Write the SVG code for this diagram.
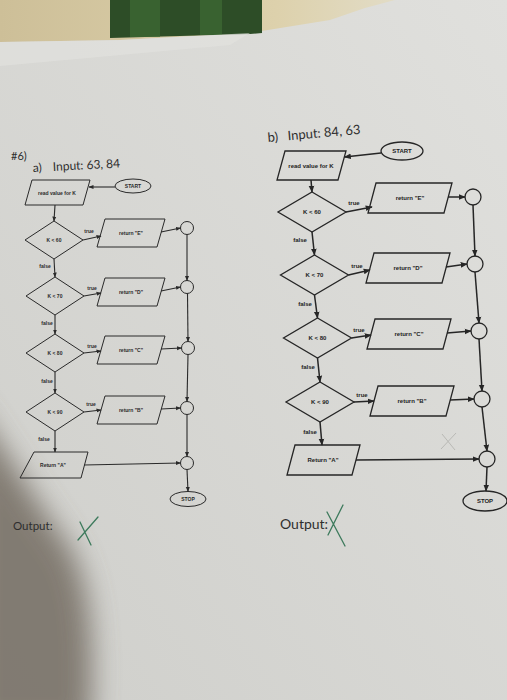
<svg xmlns="http://www.w3.org/2000/svg" width="507" height="700" viewBox="0 0 507 700">
<defs>
<style>
.shp{fill:none;stroke:#2a2a2a;stroke-width:1}
.shpb{fill:none;stroke:#262626;stroke-width:1.3}
.ln{fill:none;stroke:#2a2a2a;stroke-width:1.1;marker-end:url(#ah)}
.lnb{fill:none;stroke:#262626;stroke-width:1.5;marker-end:url(#ahb)}
.ta{font-family:"Liberation Sans",Arial,sans-serif;font-weight:bold;font-size:5px;fill:#2a2a2a;text-anchor:middle;dominant-baseline:central}
.tb{font-family:"Liberation Sans",Arial,sans-serif;font-weight:bold;font-size:6px;fill:#222;text-anchor:middle;dominant-baseline:central}
.hd{font-family:Lato,"Open Sans",sans-serif;fill:#2e2e2e}
.grn{fill:none;stroke:#3d7a5c;stroke-width:1.3;stroke-linecap:round}
</style>
<marker id="ah" viewBox="0 0 10 10" refX="9" refY="5" markerWidth="5" markerHeight="5" markerUnits="userSpaceOnUse" orient="auto"><path d="M0,1 L10,5 L0,9 z" fill="#2a2a2a"/></marker>
<marker id="ahb" viewBox="0 0 10 10" refX="9" refY="5" markerWidth="7" markerHeight="7" markerUnits="userSpaceOnUse" orient="auto"><path d="M0,1 L10,5 L0,9 z" fill="#262626"/></marker>
<linearGradient id="paper" x1="1" y1="0" x2="0" y2="1"><stop offset="0" stop-color="#e0e0dd"/><stop offset="1" stop-color="#cfcfcb"/></linearGradient>
<linearGradient id="wall" x1="0" y1="0" x2="1" y2="0"><stop offset="0" stop-color="#cdbf98"/><stop offset="0.7" stop-color="#ddd1ac"/><stop offset="1" stop-color="#e2dcc6"/></linearGradient>
<filter id="blur" x="-50%" y="-50%" width="200%" height="200%"><feGaussianBlur stdDeviation="14"/></filter>
</defs>

<g id="background">
<rect width="507" height="700" fill="url(#paper)"/>
<path d="M0,0 H395 L365,8 L330,20 L250,33 L120,40 L0,42 Z" fill="url(#wall)"/>
<path d="M110,0 H262 V33 L250,34 L110,38 Z" fill="#2d4d27"/>
<path d="M130,0 H160 V37 H130 Z M200,0 H222 V35 H200 Z" fill="#3e6b34" opacity="0.7"/>
<path d="M0,42 L120,40 L250,33 L230,45 L0,66 Z" fill="#e2e2df" opacity="0.6"/>
<path d="M-30,400 C5,450 35,500 65,540 C92,580 95,640 90,730 L-30,730 Z" fill="#6e665c" opacity="0.8" filter="url(#blur)"/>
<g stroke="#b9b9b5" stroke-width="1" fill="none"><line x1="441" y1="449" x2="456" y2="433"/><line x1="442" y1="434" x2="455" y2="450"/></g>
</g>

<g id="headings">
<text class="hd" x="11" y="160" font-size="11">#6)</text>
<g transform="rotate(-3 33 172)"><text class="hd" x="33" y="172" font-size="12">a)</text><text class="hd" x="53" y="172" font-size="12">Input: 63, 84</text></g>
<g transform="rotate(-5 268 142)"><text class="hd" x="268" y="142" font-size="13">b)</text><text class="hd" x="288" y="142" font-size="13">Input: 84, 63</text></g>
<text class="hd" x="13" y="530" font-size="11.5">Output:</text>
<text class="hd" x="280" y="529" font-size="14">Output:</text>
<path class="grn" d="M98,517 L78,540 M80,522 L91,545"/>
<path class="grn" d="M343,505 L328,535 M327,512 L345,546"/>
</g>

<!-- Part a nodes -->
<g id="a-start"><ellipse class="shp" cx="133" cy="186" rx="18" ry="7"/><text class="ta" x="133" y="186">START</text></g>
<g id="a-read"><polygon class="shp" points="32,180 90,180 83,205 25,205"/><text class="ta" x="57" y="193" font-size="4.8">read value for K</text></g>
<g id="a-k60"><polygon class="shp" points="54,221 83,240 54,259 25,240"/><text class="ta" x="54" y="240">K &lt; 60</text></g>
<g id="a-k70"><polygon class="shp" points="55,277 84,296 55,315 26,296"/><text class="ta" x="55" y="296">K &lt; 70</text></g>
<g id="a-k80"><polygon class="shp" points="55,334 84,353 55,372 26,353"/><text class="ta" x="55" y="353">K &lt; 80</text></g>
<g id="a-k90"><polygon class="shp" points="55,393 84,412 55,431 26,412"/><text class="ta" x="55" y="412">K &lt; 90</text></g>
<g id="a-retA"><polygon class="shp" points="34,452 88,452 81,478 20,478"/><text class="ta" x="53" y="465">Return "A"</text></g>
<g id="a-retE"><polygon class="shp" points="105,219 165,219 157,247 97,247"/><text class="ta" x="131" y="233">return "E"</text></g>
<g id="a-retD"><polygon class="shp" points="105,278 165,278 157,306 97,306"/><text class="ta" x="131" y="292">return "D"</text></g>
<g id="a-retC"><polygon class="shp" points="105,336 165,336 157,364 97,364"/><text class="ta" x="131" y="350">return "C"</text></g>
<g id="a-retB"><polygon class="shp" points="105,396 165,396 157,424 97,424"/><text class="ta" x="131" y="410">return "B"</text></g>
<g id="a-jE"><circle class="shp" cx="187" cy="228" r="6.5"/></g>
<g id="a-jD"><circle class="shp" cx="187" cy="287" r="6.5"/></g>
<g id="a-jC"><circle class="shp" cx="188" cy="348" r="6.5"/></g>
<g id="a-jB"><circle class="shp" cx="187" cy="408" r="6.5"/></g>
<g id="a-jA"><circle class="shp" cx="187" cy="463" r="6.5"/></g>
<g id="a-stop"><ellipse class="shp" cx="188" cy="499" rx="18" ry="7.5"/><text class="ta" x="188" y="499">STOP</text></g>

<!-- Part b nodes -->
<g id="b-start"><ellipse class="shpb" cx="402" cy="151" rx="21" ry="9"/><text class="tb" x="402" y="151">START</text></g>
<g id="b-read"><polygon class="shpb" points="285,151 346,151 338,180 277,180"/><text class="tb" x="311" y="166" font-size="5.6">read value for K</text></g>
<g id="b-k60"><polygon class="shpb" points="312,192 346,212 312,232 278,212"/><text class="tb" x="312" y="212">K &lt; 60</text></g>
<g id="b-k70"><polygon class="shpb" points="314.5,255 348.5,275 314.5,295 280.5,275"/><text class="tb" x="314.5" y="275">K &lt; 70</text></g>
<g id="b-k80"><polygon class="shpb" points="317.5,318 351.5,338 317.5,358 283.5,338"/><text class="tb" x="317.5" y="338">K &lt; 80</text></g>
<g id="b-k90"><polygon class="shpb" points="320,382 354,402 320,422 286,402"/><text class="tb" x="320" y="402">K &lt; 90</text></g>
<g id="b-retA"><polygon class="shpb" points="295,445 360,445 352,475 287,475"/><text class="tb" x="323" y="460">Return "A"</text></g>
<g id="b-retE"><polygon class="shpb" points="376,183 452,183 444,213 368,213"/><text class="tb" x="410" y="198">return "E"</text></g>
<g id="b-retD"><polygon class="shpb" points="374,253 450,253 442,283 366,283"/><text class="tb" x="408" y="268">return "D"</text></g>
<g id="b-retC"><polygon class="shpb" points="375,319 451,319 443,349 367,349"/><text class="tb" x="409" y="334">return "C"</text></g>
<g id="b-retB"><polygon class="shpb" points="378,386 454,386 446,416 370,416"/><text class="tb" x="412" y="401">return "B"</text></g>
<g id="b-jE"><circle class="shpb" cx="473" cy="197" r="8"/></g>
<g id="b-jD"><circle class="shpb" cx="475" cy="264" r="8"/></g>
<g id="b-jC"><circle class="shpb" cx="479" cy="331" r="8"/></g>
<g id="b-jB"><circle class="shpb" cx="482" cy="399" r="8"/></g>
<g id="b-jA"><circle class="shpb" cx="487" cy="459" r="8"/></g>
<g id="b-stop"><ellipse class="shpb" cx="485" cy="501" rx="22" ry="10"/><text class="tb" x="485" y="501">STOP</text></g>

<g id="connectors">
<!-- part a -->
<line class="ln" x1="115" y1="187" x2="89" y2="187"/>
<line class="ln" x1="55" y1="205" x2="54" y2="221"/>
<line class="ln" x1="54" y1="259" x2="55" y2="277"/>
<line class="ln" x1="55" y1="315" x2="55" y2="334"/>
<line class="ln" x1="55" y1="372" x2="55" y2="393"/>
<line class="ln" x1="55" y1="431" x2="55" y2="452"/>
<line class="ln" x1="83" y1="240" x2="101" y2="236"/>
<line class="ln" x1="84" y1="296" x2="101" y2="293"/>
<line class="ln" x1="84" y1="353" x2="101" y2="351"/>
<line class="ln" x1="84" y1="412" x2="101" y2="410"/>
<line class="ln" x1="161" y1="232" x2="180.5" y2="228"/>
<line class="ln" x1="161" y1="291" x2="180.5" y2="287"/>
<line class="ln" x1="161" y1="349" x2="181.5" y2="348"/>
<line class="ln" x1="161" y1="409" x2="180.5" y2="408"/>
<line class="ln" x1="84" y1="465" x2="180.5" y2="463"/>
<line class="ln" x1="187" y1="234.5" x2="187" y2="280.5"/>
<line class="ln" x1="187.5" y1="293.5" x2="188" y2="341.5"/>
<line class="ln" x1="188" y1="354.5" x2="187" y2="401.5"/>
<line class="ln" x1="187" y1="414.5" x2="187" y2="456.5"/>
<line class="ln" x1="187" y1="469.5" x2="188" y2="491.5"/>
<!-- part b -->
<line class="lnb" x1="381" y1="153" x2="344.5" y2="157"/>
<line class="lnb" x1="311" y1="180" x2="312" y2="192"/>
<line class="lnb" x1="312" y1="232" x2="314.5" y2="255"/>
<line class="lnb" x1="314.5" y1="295" x2="317.5" y2="318"/>
<line class="lnb" x1="317.5" y1="358" x2="320" y2="382"/>
<line class="lnb" x1="320" y1="422" x2="322" y2="445"/>
<line class="lnb" x1="346" y1="212" x2="372" y2="207"/>
<line class="lnb" x1="348.5" y1="275" x2="370" y2="270"/>
<line class="lnb" x1="351.5" y1="338" x2="371" y2="335"/>
<line class="lnb" x1="354" y1="402" x2="374" y2="401"/>
<line class="lnb" x1="448" y1="197" x2="465" y2="197"/>
<line class="lnb" x1="446" y1="267" x2="467" y2="264"/>
<line class="lnb" x1="447" y1="333" x2="471" y2="331"/>
<line class="lnb" x1="450" y1="400" x2="474" y2="399"/>
<line class="lnb" x1="356" y1="460" x2="479" y2="459"/>
<line class="lnb" x1="473" y1="205" x2="475" y2="256"/>
<line class="lnb" x1="475" y1="272" x2="479" y2="323"/>
<line class="lnb" x1="479" y1="339" x2="482" y2="391"/>
<line class="lnb" x1="482" y1="407" x2="487" y2="451"/>
<line class="lnb" x1="487" y1="467" x2="486" y2="491"/>
<!-- labels -->
<text class="ta" x="89" y="231">true</text>
<text class="ta" x="92" y="288">true</text>
<text class="ta" x="92" y="346">true</text>
<text class="ta" x="91" y="404">true</text>
<text class="ta" x="45" y="266">false</text>
<text class="ta" x="47" y="323">false</text>
<text class="ta" x="47" y="381">false</text>
<text class="ta" x="44" y="439">false</text>
<text class="tb" x="354" y="203">true</text>
<text class="tb" x="357" y="266">true</text>
<text class="tb" x="359" y="330">true</text>
<text class="tb" x="362" y="395">true</text>
<text class="tb" x="300" y="240">false</text>
<text class="tb" x="305" y="304">false</text>
<text class="tb" x="308" y="367">false</text>
<text class="tb" x="310" y="432">false</text>
</g>
</svg>
